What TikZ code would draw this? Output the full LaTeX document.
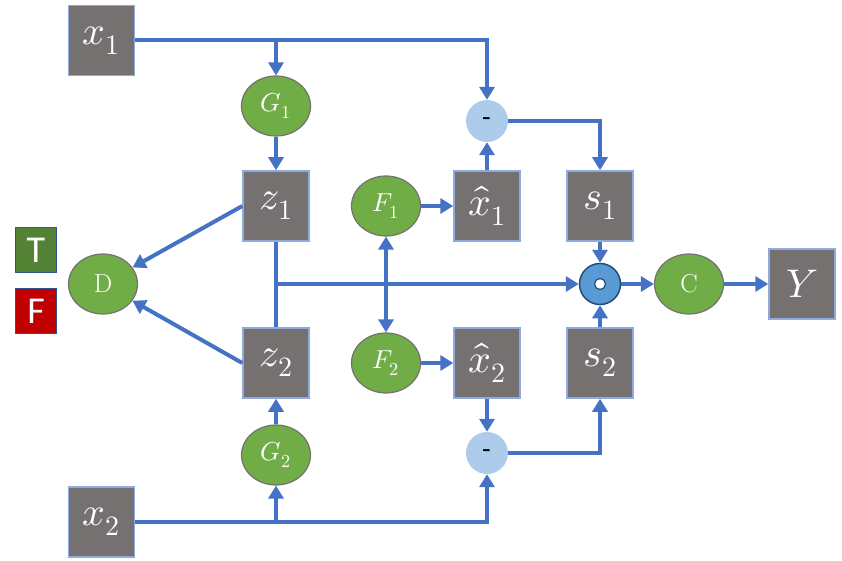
\documentclass[tikz,border=0pt]{standalone}
\usepackage{amsmath}
\usepackage{fontspec}
\usepackage{unicode-math}
\setmathfont{Latin Modern Math}
\newfontfamily\tagfont{Carlito}
\usetikzlibrary{arrows.meta}
\usetikzlibrary{shapes.geometric}
\usetikzlibrary{calc}

\definecolor{boxgray}{HTML}{767171}
\definecolor{boxedge}{HTML}{8FAADC}
\definecolor{linkblue}{HTML}{4472C4}
\definecolor{netgreen}{HTML}{70AD47}
\definecolor{netedge}{HTML}{767171}
\definecolor{minusblue}{HTML}{ADCBEA}
\definecolor{dotblue}{HTML}{5B9BD5}
\definecolor{dotedge}{HTML}{1F4E79}
\definecolor{truegreen}{HTML}{548235}
\definecolor{falsered}{HTML}{C00000}
\definecolor{tagedge}{HTML}{2F5597}

\tikzset{
  var/.style={rectangle, fill=boxgray, draw=boxedge, line width=1.5pt,
    minimum width=66pt, minimum height=70pt, inner sep=0pt,
    text=white, font=\fontsize{40}{40}\selectfont},
  net/.style={ellipse, fill=netgreen, draw=netedge, line width=1.2pt,
    minimum width=69pt, minimum height=60pt, inner sep=0pt,
    text=white, font=\fontsize{26}{26}\selectfont},
  diff/.style={circle, fill=minusblue, minimum size=42pt, inner sep=0pt,
    font=\fontsize{22}{22}\selectfont\bfseries},
  tag/.style={rectangle, draw=tagedge, line width=1.5pt,
    minimum width=41pt, minimum height=45pt, inner sep=0pt,
    text=white, font=\tagfont\fontsize{38}{38}\selectfont},
  link/.style={draw=linkblue, line width=4pt},
  >={Triangle[length=13pt,width=15pt]}
}

\begin{document}
\begin{tikzpicture}[x=1pt,y=-1pt]
        \useasboundingbox (0,0) rectangle (842,561);
        %% define columns
        \def\Ct{36};
        \def\Ci{101.5};
        \def\Cd{103};
        \def\Cii{276};
        \def\Ciii{386};
        \def\Civ{487};
        \def\Cv{600};
        \def\Cvi{689};
        \def\Cvii{802};

        %% define rows
        \def\Ri{40.5};
        \def\Rii{106};
        \def\Riii{121};
        \def\Riv{206};
        \def\Rv{284};
        \def\Rvi{363};
        \def\Rvii{453};
        \def\Rviii{455};
        \def\Rix{522};

        %% inputs
        \node[var] (x1) at (\Ci,\Ri) {$x_1$};
        \node[var] (x2) at (\Ci,\Rix) {$x_2$};

        %% generators and codes
        \node[net] (g1) at (\Cii,\Rii) {$G_1$};
        \node[var] (z1) at (\Cii,\Riv) {$z_1$};
        \node[var] (z2) at (\Cii,\Rvi) {$z_2$};
        \node[net] (g2) at (\Cii,\Rviii) {$G_2$};

        %% discriminator
        \node[net] (dd) at (\Cd,\Rv) {D};
        \node[tag, fill=truegreen] (tt) at (\Ct,250) {T};
        \node[tag, fill=falsered] (ff) at (\Ct,311) {F};

        %% decoders and reconstructions
        \node[net] (f1) at (\Ciii,\Riv) {$F_1$};
        \node[net] (f2) at (\Ciii,\Rvi) {$F_2$};
        \node[var] (xh1) at (\Civ,\Riv) {$\hat{x}_1$};
        \node[var] (xh2) at (\Civ,\Rvi) {$\hat{x}_2$};
        \node[diff] (m1) at (\Civ,\Riii) {-};
        \node[diff] (m2) at (\Civ,\Rvii) {-};
        \node[var] (s1) at (\Cv,\Riv) {$s_1$};
        \node[var] (s2) at (\Cv,\Rvi) {$s_2$};

        %% product, classifier, output
        \node[circle, fill=dotblue, draw=dotedge, line width=1.5pt, minimum size=41pt] (dot) at (\Cv,\Rv) {};
        \fill[white, draw=dotedge, line width=1.2pt] (dot) circle (5.5pt);
        \node[net] (cc) at (\Cvi,\Rv) {C};
        \node[var] (yy) at (\Cvii,\Rv) {$Y$};

        %% input lines
        \draw[link,->] (x1.east) -| (m1.north);
        \draw[link,->] (x1.east -| g1.north) -- (g1.north);
        \draw[link,->] (x2.east) -| (m2.south);
        \draw[link,->] (x2.east -| g2.south) -- (g2.south);
        \draw[link,->] (g1.south) -- (z1.north);
        \draw[link,->] (g2.north) -- (z2.south);

        %% codes to discriminator
        \draw[link,->] (z1.west) -- (dd);
        \draw[link,->] (z2.west) -- (dd);

        %% codes to decoders and product
        \draw[link] (z1.south) -- (z2.north);
        \draw[link,->] (z1.south |- dot) -- (dot.west);
        \coordinate (fj) at (f1.south |- dot);
        \draw[link,->] (fj) -- (f1.south);
        \draw[link,->] (fj) -- (f2.north);
        \draw[link,->] (f1.east) -- (xh1.west);
        \draw[link,->] (f2.east) -- (xh2.west);

        %% differences
        \draw[link,->] (xh1.north) -- (m1.south);
        \draw[link,->] (xh2.south) -- (m2.north);
        \draw[link,->] (m1.east) -| (s1.north);
        \draw[link,->] (m2.east) -| (s2.south);
        \draw[link,->] (s1.south) -- (dot.north);
        \draw[link,->] (s2.north) -- (dot.south);

        %% output
        \draw[link,->] (dot.east) -- (cc.west);
        \draw[link,->] (cc.east) -- (yy.west);
    \end{tikzpicture}
\end{document}
